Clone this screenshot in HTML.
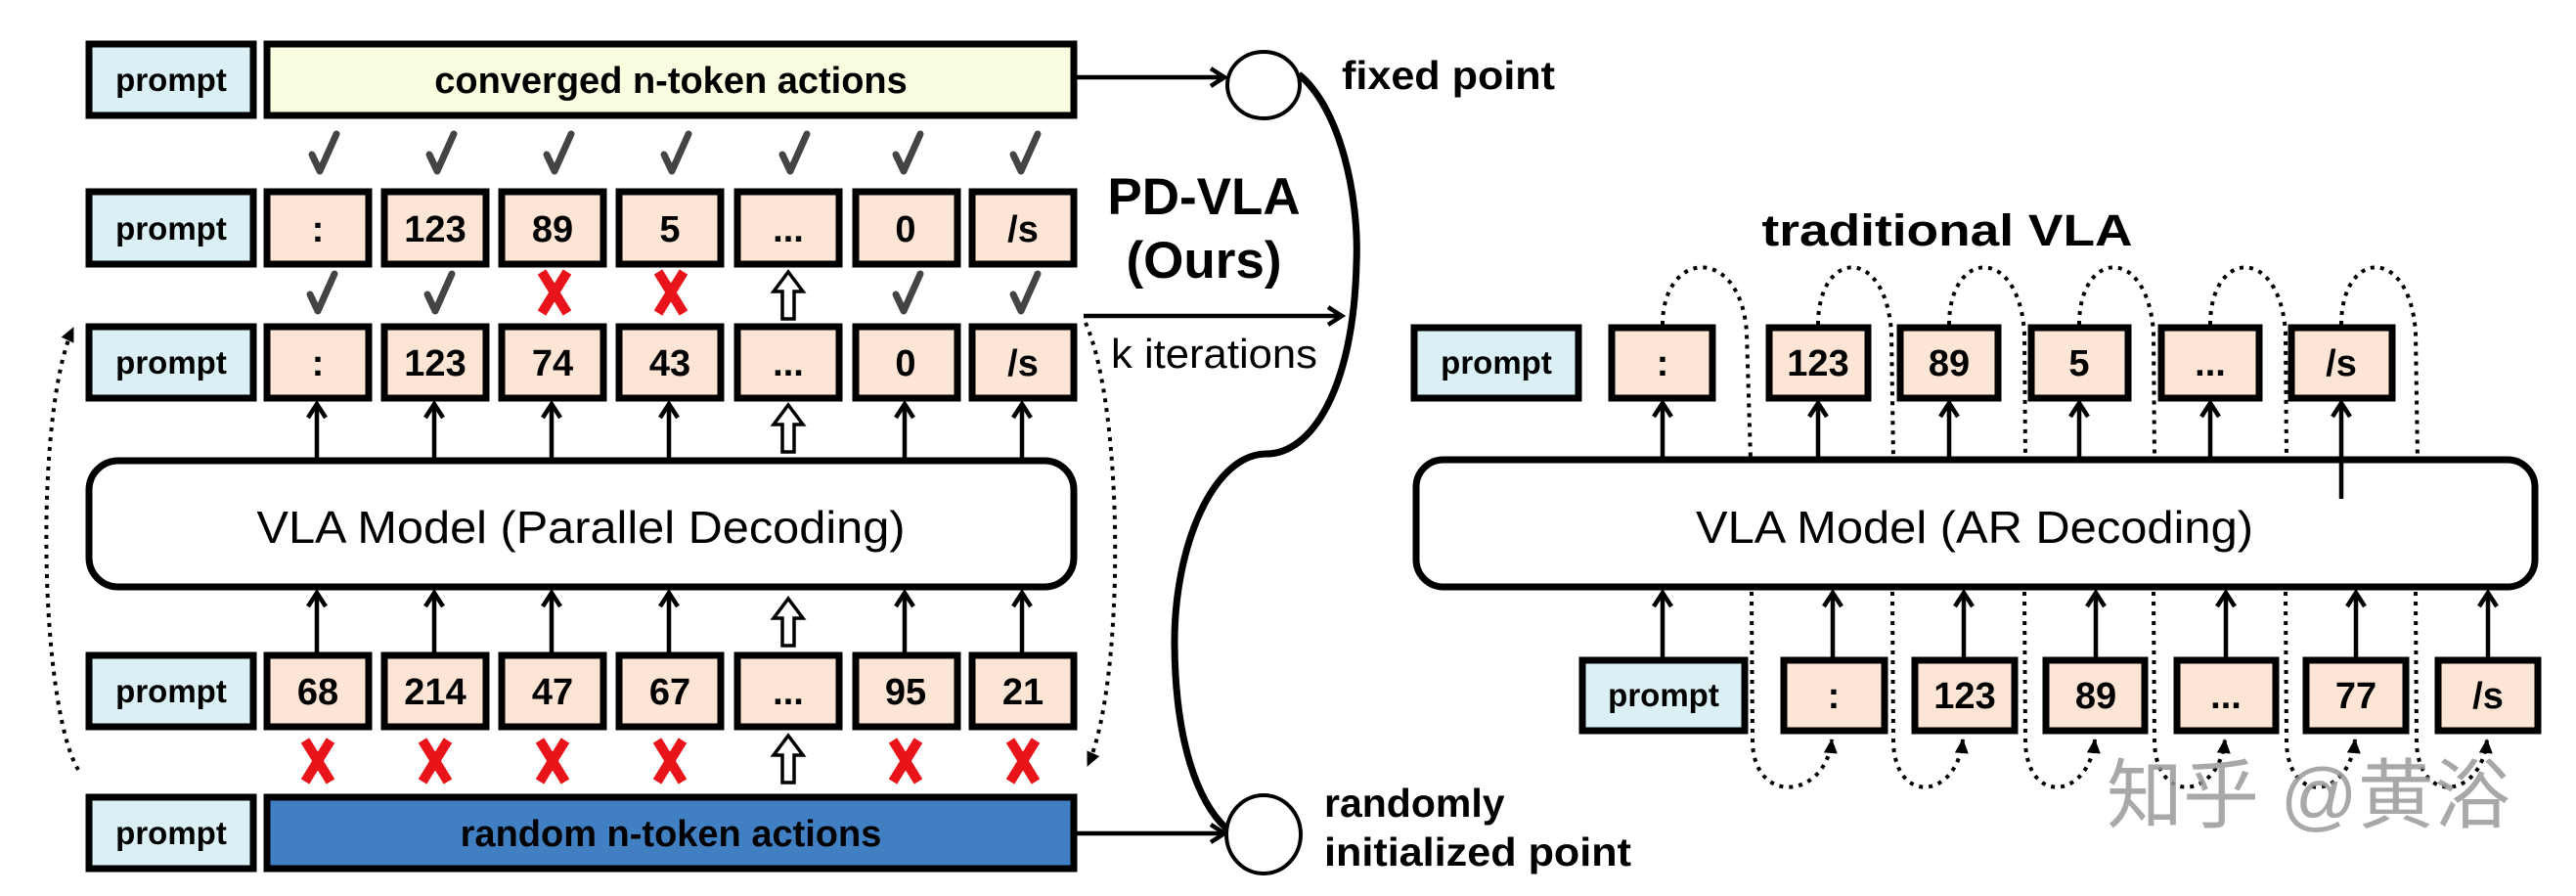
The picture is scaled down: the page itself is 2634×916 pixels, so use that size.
<!DOCTYPE html>
<html><head><meta charset="utf-8"><style>html,body{margin:0;padding:0;background:#fff}svg{display:block}</style></head>
<body>
<svg width="2634" height="916" viewBox="0 0 2634 916" xmlns="http://www.w3.org/2000/svg" font-family="Liberation Sans, Arial, sans-serif">
<defs>
<marker id="a" markerWidth="22" markerHeight="22" refX="17" refY="11" orient="auto" markerUnits="userSpaceOnUse"><path d="M3,2 L17,11 L3,20" fill="none" stroke="#000" stroke-width="4.5"/></marker>
<marker id="d" markerWidth="20" markerHeight="20" refX="16" refY="10" orient="auto" markerUnits="userSpaceOnUse"><path d="M2,3 L17,10 L2,17 Z" fill="#000"/></marker>
<path id="h" d="M0,0 L15,20 L6,20 L6,48 L-6,48 L-6,20 L-15,20 Z" fill="#fff" stroke="#000" stroke-width="3.5" stroke-linejoin="miter"/>
<path id="c" d="M-13,2 L-5,19 L12,-19" fill="none" stroke="#444" stroke-width="7" stroke-linecap="round" stroke-linejoin="round"/>
<g id="x"><path d="M-13,-21 L13,21 M13,-21 L-13,21" stroke="#e8141a" stroke-width="10"/></g>
</defs>

<g stroke="#000" stroke-width="7">
<rect x="91" y="45" width="168" height="73" fill="#daf0f5"/>
<rect x="273" y="45" width="825" height="73" fill="#fafde0"/>
<rect x="91" y="196" width="168" height="74" fill="#daf0f5"/>
<rect x="273" y="196" width="104" height="74" fill="#fde5d6"/>
<rect x="393" y="196" width="104" height="74" fill="#fde5d6"/>
<rect x="513" y="196" width="104" height="74" fill="#fde5d6"/>
<rect x="633" y="196" width="104" height="74" fill="#fde5d6"/>
<rect x="754" y="196" width="104" height="74" fill="#fde5d6"/>
<rect x="875" y="196" width="104" height="74" fill="#fde5d6"/>
<rect x="994" y="196" width="104" height="74" fill="#fde5d6"/>
<rect x="91" y="334" width="168" height="73" fill="#daf0f5"/>
<rect x="273" y="334" width="104" height="73" fill="#fde5d6"/>
<rect x="393" y="334" width="104" height="73" fill="#fde5d6"/>
<rect x="513" y="334" width="104" height="73" fill="#fde5d6"/>
<rect x="633" y="334" width="104" height="73" fill="#fde5d6"/>
<rect x="754" y="334" width="104" height="73" fill="#fde5d6"/>
<rect x="875" y="334" width="104" height="73" fill="#fde5d6"/>
<rect x="994" y="334" width="104" height="73" fill="#fde5d6"/>
<rect x="91" y="670" width="168" height="73" fill="#daf0f5"/>
<rect x="273" y="670" width="104" height="73" fill="#fde5d6"/>
<rect x="393" y="670" width="104" height="73" fill="#fde5d6"/>
<rect x="513" y="670" width="104" height="73" fill="#fde5d6"/>
<rect x="633" y="670" width="104" height="73" fill="#fde5d6"/>
<rect x="754" y="670" width="104" height="73" fill="#fde5d6"/>
<rect x="875" y="670" width="104" height="73" fill="#fde5d6"/>
<rect x="994" y="670" width="104" height="73" fill="#fde5d6"/>
<rect x="91" y="815" width="168" height="73" fill="#daf0f5"/>
<rect x="273" y="815" width="825" height="73" fill="#4080c2"/>
<rect x="91" y="471" width="1007" height="129" rx="30" fill="#fff"/>
</g>

<g font-weight="bold" font-size="33" text-anchor="middle" fill="#000">
<text x="175" y="93">prompt</text>
<text x="175" y="245">prompt</text>
<text x="175" y="382">prompt</text>
<text x="175" y="718">prompt</text>
<text x="175" y="863">prompt</text>
</g>
<g font-weight="bold" font-size="38" text-anchor="middle" fill="#000">
<text x="686" y="95">converged n-token actions</text>
<text x="686" y="865">random n-token actions</text>
<text x="325" y="247">:</text><text x="445" y="247">123</text><text x="565" y="247">89</text><text x="685" y="247">5</text><text x="806" y="247">...</text><text x="926" y="247">0</text><text x="1046" y="247">/s</text>
<text x="325" y="384">:</text><text x="445" y="384">123</text><text x="565" y="384">74</text><text x="685" y="384">43</text><text x="806" y="384">...</text><text x="926" y="384">0</text><text x="1046" y="384">/s</text>
<text x="325" y="720">68</text><text x="445" y="720">214</text><text x="565" y="720">47</text><text x="685" y="720">67</text><text x="806" y="720">...</text><text x="926" y="720">95</text><text x="1046" y="720">21</text>
</g>
<text x="594" y="555" font-size="46" text-anchor="middle" textLength="663" lengthAdjust="spacingAndGlyphs">VLA Model (Parallel Decoding)</text>

<use href="#c" x="332" y="156"/><use href="#c" x="452" y="156"/><use href="#c" x="572" y="156"/><use href="#c" x="692" y="156"/><use href="#c" x="813" y="156"/><use href="#c" x="929" y="156"/><use href="#c" x="1049" y="156"/>
<use href="#c" x="330" y="299"/><use href="#c" x="450" y="299"/><use href="#x" x="567" y="299"/><use href="#x" x="686" y="299"/><use href="#h" x="806" y="278"/><use href="#c" x="929" y="299"/><use href="#c" x="1049" y="299"/>
<use href="#x" x="325" y="778"/><use href="#x" x="445" y="778"/><use href="#x" x="565" y="778"/><use href="#x" x="685" y="778"/><use href="#h" x="806" y="752"/><use href="#x" x="926" y="778"/><use href="#x" x="1046" y="778"/>
<use href="#h" x="806" y="414"/><use href="#h" x="806" y="612"/>

<g stroke="#000" stroke-width="4.5" marker-end="url(#a)">
<line x1="324" y1="468" x2="324" y2="413"/><line x1="444" y1="468" x2="444" y2="413"/><line x1="564" y1="468" x2="564" y2="413"/><line x1="684" y1="468" x2="684" y2="413"/><line x1="925" y1="468" x2="925" y2="413"/><line x1="1045" y1="468" x2="1045" y2="413"/>
<line x1="324" y1="667" x2="324" y2="606"/><line x1="444" y1="667" x2="444" y2="606"/><line x1="564" y1="667" x2="564" y2="606"/><line x1="684" y1="667" x2="684" y2="606"/><line x1="925" y1="667" x2="925" y2="606"/><line x1="1045" y1="667" x2="1045" y2="606"/>
<line x1="1101" y1="79" x2="1252" y2="79"/>
<line x1="1101" y1="852" x2="1252" y2="852"/>
<line x1="1108" y1="323" x2="1372" y2="323"/>
</g>
<g fill="none" stroke="#000" stroke-width="4" stroke-dasharray="4 6" marker-end="url(#d)">
<path d="M80,787 C40,720 35,420 75,335"/>
<path d="M1110,330 C1150,420 1150,700 1112,783"/>
</g>

<ellipse cx="1292" cy="87" rx="37" ry="34" fill="#fff" stroke="#000" stroke-width="4"/>
<ellipse cx="1292" cy="853" rx="38" ry="40" fill="#fff" stroke="#000" stroke-width="4"/>
<path d="M1328,76 C1370,110 1390,200 1387,269 C1384,400 1340,464 1295,464 C1240,464 1200,560 1201,660 C1202,760 1225,820 1254,847" fill="none" stroke="#000" stroke-width="7"/>
<g font-weight="bold" fill="#000">
<text x="1231" y="219" font-size="53" text-anchor="middle">PD-VLA</text>
<text x="1231" y="284" font-size="53" text-anchor="middle">(Ours)</text>
<text x="1372" y="91" font-size="41" textLength="218" lengthAdjust="spacingAndGlyphs">fixed point</text>
<text x="1354" y="835" font-size="41">randomly</text>
<text x="1354" y="885" font-size="41" textLength="314" lengthAdjust="spacingAndGlyphs">initialized point</text>
<text x="1991" y="251" font-size="45" text-anchor="middle" textLength="379" lengthAdjust="spacingAndGlyphs">traditional VLA</text>
</g>
<text x="1136" y="376" font-size="42" textLength="211" lengthAdjust="spacingAndGlyphs">k iterations</text>

<g stroke="#000" stroke-width="7">
<rect x="1446" y="335" width="168" height="72" fill="#daf0f5"/>
<rect x="1648" y="335" width="103" height="72" fill="#fde5d6"/>
<rect x="1809" y="335" width="101" height="72" fill="#fde5d6"/>
<rect x="1943" y="335" width="100" height="72" fill="#fde5d6"/>
<rect x="2077" y="335" width="99" height="72" fill="#fde5d6"/>
<rect x="2210" y="335" width="100" height="72" fill="#fde5d6"/>
<rect x="2343" y="335" width="103" height="72" fill="#fde5d6"/>
<rect x="1618" y="675" width="166" height="72" fill="#daf0f5"/>
<rect x="1824" y="675" width="103" height="72" fill="#fde5d6"/>
<rect x="1958" y="675" width="102" height="72" fill="#fde5d6"/>
<rect x="2092" y="675" width="101" height="72" fill="#fde5d6"/>
<rect x="2226" y="675" width="101" height="72" fill="#fde5d6"/>
<rect x="2358" y="675" width="102" height="72" fill="#fde5d6"/>
<rect x="2493" y="675" width="102" height="72" fill="#fde5d6"/>
</g>
<g font-weight="bold" font-size="33" text-anchor="middle"><text x="1530" y="382">prompt</text><text x="1701" y="722">prompt</text></g>
<g font-weight="bold" font-size="38" text-anchor="middle">
<text x="1700" y="384">:</text><text x="1859" y="384">123</text><text x="1993" y="384">89</text><text x="2126" y="384">5</text><text x="2260" y="384">...</text><text x="2394" y="384">/s</text>
<text x="1875" y="724">:</text><text x="2009" y="724">123</text><text x="2143" y="724">89</text><text x="2276" y="724">...</text><text x="2409" y="724">77</text><text x="2544" y="724">/s</text>
</g>

<g fill="none" stroke="#000" stroke-width="4" stroke-dasharray="4 6">
<path d="M1700,332 C1700,255 1780,250 1786,340 L1790,470"/>
<path d="M1859,332 C1859,255 1928,250 1934,340 L1936,470"/>
<path d="M1993,332 C1993,255 2064,250 2070,340 L2071,470"/>
<path d="M2126,332 C2126,255 2196,250 2202,340 L2203,470"/>
<path d="M2260,332 C2260,255 2331,250 2337,340 L2338,470"/>
<path d="M2394,332 C2394,255 2464,250 2470,340 L2472,470"/>
</g>
<g fill="none" stroke="#000" stroke-width="4" stroke-dasharray="4 6" marker-end="url(#d)">
<path d="M1791,605 L1792,760 C1795,825 1868,815 1873,756"/>
<path d="M1935,605 L1936,760 C1939,825 2002,815 2007,756"/>
<path d="M2070,605 L2071,760 C2074,825 2137,815 2142,756"/>
<path d="M2202,605 L2203,760 C2206,825 2270,815 2275,756"/>
<path d="M2337,605 L2338,760 C2341,825 2403,815 2408,756"/>
<path d="M2470,605 L2471,760 C2474,825 2538,815 2543,756"/>
</g>
<rect x="1448" y="470" width="1144" height="130" rx="28" fill="#fff" stroke="#000" stroke-width="7"/>
<text x="2019" y="555" font-size="46" text-anchor="middle" textLength="570" lengthAdjust="spacingAndGlyphs">VLA Model (AR Decoding)</text>
<g stroke="#000" stroke-width="4.5" marker-end="url(#a)">
<line x1="1700" y1="467" x2="1700" y2="412"/><line x1="1859" y1="467" x2="1859" y2="412"/><line x1="1993" y1="467" x2="1993" y2="412"/><line x1="2126" y1="467" x2="2126" y2="412"/><line x1="2260" y1="467" x2="2260" y2="412"/><line x1="2394" y1="510" x2="2394" y2="412"/>
<line x1="1700" y1="672" x2="1700" y2="606"/><line x1="1874" y1="672" x2="1874" y2="606"/><line x1="2008" y1="672" x2="2008" y2="606"/><line x1="2143" y1="672" x2="2143" y2="606"/><line x1="2276" y1="672" x2="2276" y2="606"/><line x1="2409" y1="672" x2="2409" y2="606"/><line x1="2544" y1="672" x2="2544" y2="606"/>
</g>

<text x="2154" y="840" font-size="78" fill="#9a9a9a" opacity="0.85" font-family="Liberation Sans, Noto Sans CJK SC, sans-serif">知乎 @黄浴</text>
</svg>
</body></html>
